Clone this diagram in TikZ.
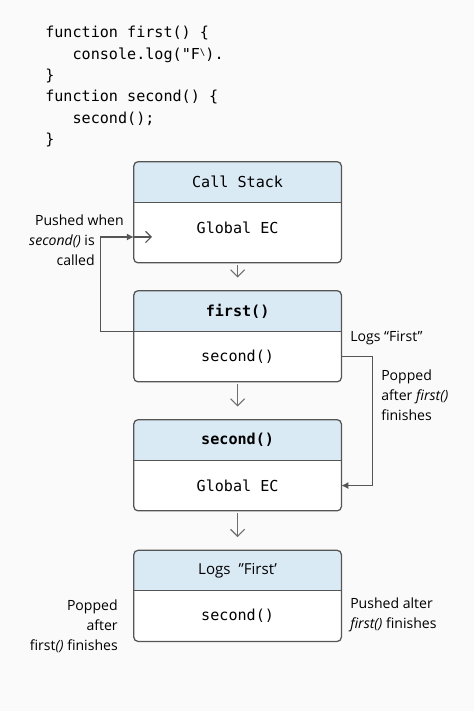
\documentclass[tikz,border=0pt]{standalone}
\usepackage{fontspec}
\setmainfont{Open Sans}
\setmonofont{DejaVu Sans Mono}
\usetikzlibrary{positioning,arrows.meta,backgrounds}
\definecolor{headblue}{HTML}{DAEAF5}
\definecolor{edge}{HTML}{555555}
\definecolor{paper}{HTML}{FAFAFA}
\begin{document}
\begin{tikzpicture}[font=\fontsize{10}{14.2}\selectfont,
  head/.style={minimum width=5.175cm,minimum height=1cm,inner sep=0pt,font=\fontsize{10.75}{13}\selectfont\ttfamily},
  body/.style={minimum width=5.175cm,minimum height=1.25cm,inner sep=0pt,font=\fontsize{10.75}{13}\selectfont\ttfamily},
  frame/.style={draw=edge,line width=0.9pt,rounded corners=3pt},
  flow/.style={draw=edge!85,line width=0.8pt,-{Straight Barb[length=5pt,width=10pt]},shorten <=0.06cm,shorten >=0.33cm},
  conn/.style={draw=edge,line width=0.8pt},
  note/.style={align=left,inner sep=0pt}]
\useasboundingbox (0,0) rectangle (11.85,17.775);
\node[anchor=north west,align=left,inner sep=0pt,font=\fontsize{10.75}{15.2}\selectfont\ttfamily] (src) at (1.125,17.125)
  {function first() \{\\\phantom{xxx}console.log("F\raisebox{0.4ex}{\scalebox{0.6}{\textbackslash}}).\\\}\\function second() \{\\\phantom{xxx}second();\\\}};
\node[head] (cs) at (5.94,13.225) {Call Stack};
\node[body,minimum height=1.5cm,text depth=0.25cm,below=0pt of cs] (csb) {Global EC};
\node[head] (f) at (5.94,10.0) {\textbf{first()}};
\node[body,below=0pt of f] (fb) {second()};
\node[head] (s) at (5.94,6.775) {\textbf{second()}};
\node[body,below=0pt of s] (sb) {Global EC};
\node[head] (l) at (5.94,3.51) {\rmfamily Logs\ \ "First’};
\node[body,below=0pt of l] (lb) {second()};
% side notes
\node[note,anchor=east,align=right] (pw) at (3.1,11.775) {Pushed when\\\textit{second()} is\rule{0.725cm}{0pt}\\called\rule{0.725cm}{0pt}};
\node[note,anchor=west] (lf) at (8.75,9.325) {Logs “First”};
\node[note,anchor=west] (pa) at (9.525,7.9) {Popped\\after \textit{first()}\\finishes};
\node[note,anchor=east,align=right] (pb) at (2.95,2.125) {Popped\\after\\first\textit{()} finishes};
\node[note,anchor=west] (pl) at (8.75,2.4) {Pushed alter\\\textit{first()} finishes};
\begin{scope}[on background layer]
\fill[paper] (0,0) rectangle (11.85,17.775);
\foreach \h/\b in {cs/csb,f/fb,s/sb,l/lb}{
  \fill[white,rounded corners=3pt] (\h.north west) rectangle (\b.south east);
  \fill[headblue] (\h.south west) {[rounded corners=3pt] -- (\h.north west) -- (\h.north east)} -- (\h.south east) -- cycle;}
\end{scope}
\foreach \h/\b in {cs/csb,f/fb,s/sb,l/lb}{
  \draw[frame] (\h.north west) rectangle (\b.south east);
  \draw[conn] (\h.south west) -- (\h.south east);}
\foreach \a/\b in {csb/f,fb/s,sb/l} \draw[flow] (\a) -- (\b);
% connectors
\coordinate (in1) at (3.8,11.85);
\draw[conn,-{Latex[length=5pt,width=5pt]}] (f.south west) -- ++(-0.825,0) |- (csb.west |- in1);
\draw[conn,-{Straight Barb[length=4pt,width=8pt]}] (csb.west |- in1) -- (in1);
\draw[conn,-{Latex[length=5pt,width=5pt]}] (fb.east) -- ++(0.78,0) |- (sb.east);
\end{tikzpicture}
\end{document}
